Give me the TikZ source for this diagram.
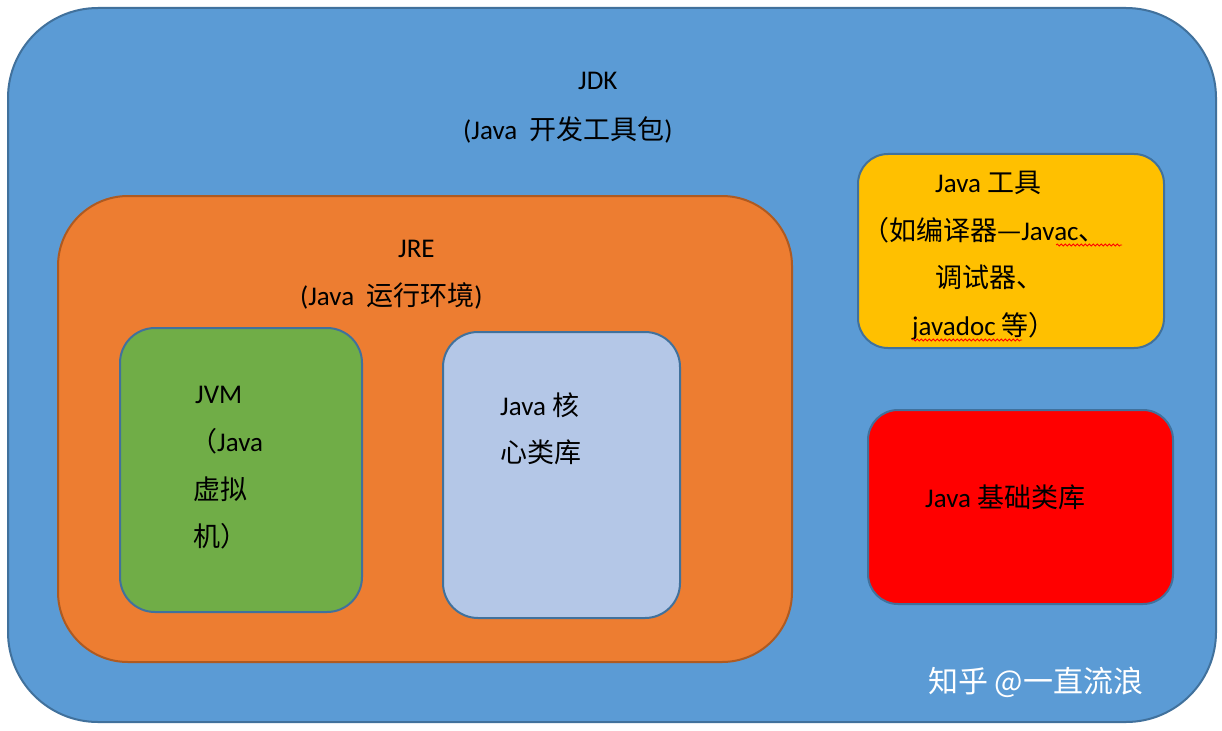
\documentclass[tikz,border=0pt]{standalone}
\usepackage{fontspec}
\setmainfont{Carlito}
\newfontfamily\cjk{Noto Sans CJK SC}
\usetikzlibrary{decorations.pathmorphing}
\definecolor{jdkf}{HTML}{5B9BD5}\definecolor{jdkd}{HTML}{41719C}
\definecolor{jref}{HTML}{ED7D31}\definecolor{jred}{HTML}{AE5A21}
\definecolor{jvmf}{HTML}{70AD47}\definecolor{corf}{HTML}{B4C7E7}
\definecolor{toolf}{HTML}{FFC000}
\begin{document}
\begin{tikzpicture}[x=1pt,y=-1pt,
 box/.style={line width=2pt},
 t/.style={anchor=base west,inner sep=0pt,font=\fontsize{27}{30}\selectfont},
 sq/.style={red,line width=0.8pt,decorate,decoration={snake,amplitude=1pt,segment length=4pt}}]
\useasboundingbox (0,0) rectangle (1222,730);
\fill[white] (0,0) rectangle (1222,730);
\draw[box,fill=jdkf,draw=jdkd,rounded corners=90pt] (8,8) rectangle (1216,722);
\draw[box,fill=jref,draw=jred,rounded corners=70pt] (58,196) rectangle (792,662);
\draw[box,fill=jvmf,draw=jdkd,rounded corners=35pt] (120,328) rectangle (362,612);
\draw[box,fill=corf,draw=jdkd,rounded corners=35pt] (443,332) rectangle (680,618);
\draw[box,fill=toolf,draw=jdkd,rounded corners=30pt] (858,154) rectangle (1164,348);
\draw[box,fill=red,draw=jdkd,rounded corners=30pt] (868,410) rectangle (1173,604);
\node[t] (a1) at (578,90) {JDK};
\node[t] (a2) at (463,140) {(Java\ \ {\cjk 开发工具包})};
\node[t] (b1) at (398,257) {JRE};
\node[t] (b2) at (300,305) {(Java\ \ {\cjk 运行环境})};
\node[t] (c1) at (195,403) {JVM};
\node[t] (c2) at (190,451) {{\cjk （}Java};
\node[t] (c3) at (193,499) {\cjk 虚拟};
\node[t] (c4) at (193,546) {\cjk 机）};
\node[t] (d1) at (500,415) {Java {\cjk 核}};
\node[t] (d2) at (500,462) {\cjk 心类库};
\node[t] (e1) at (935,192) {Java {\cjk 工具}};
\node[t] (e2) at (862,240) {{\cjk （如编译器—}Javac{\cjk 、}};
\node[t] (e3) at (935,287) {\cjk 调试器、};
\node[t] (e4) at (912,335) {javadoc {\cjk 等）}};
\node[t] (f1) at (925,507) {Java {\cjk 基础类库}};
\draw[sq] (1056,245) -- (1122,245);
\draw[sq] (912,340) -- (1022,340);
\node[t,white,font=\fontsize{30}{32}\selectfont\cjk] (w) at (928,692) {知乎 @一直流浪};
\end{tikzpicture}
\end{document}
